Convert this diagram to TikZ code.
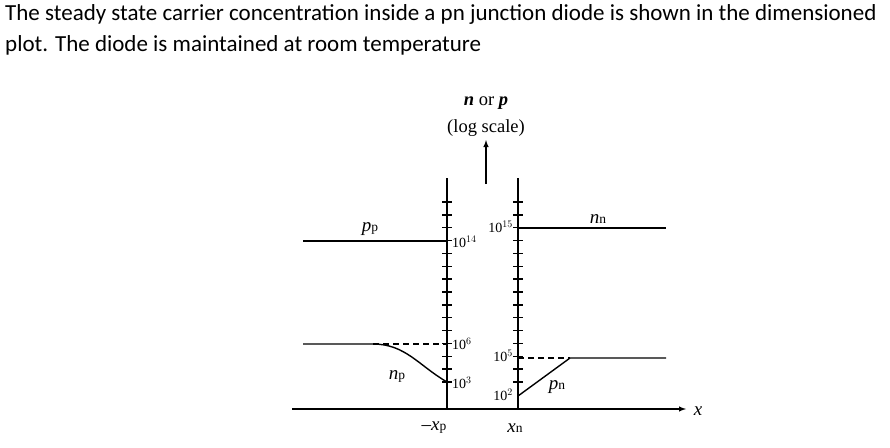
\documentclass[tikz,border=0pt]{standalone}
\usepackage{fontspec}
\setmainfont{Liberation Serif}
\newfontfamily\hdr{Carlito}
\begin{document}
\begin{tikzpicture}[x=1pt,y=-1pt,
  ln/.style={line width=1.4pt},
  dsh/.style={line width=1.1pt,dash pattern=on 6pt off 4pt},
  lbl/.style={font=\fontsize{19}{20}\selectfont\itshape,inner sep=0},
  tl/.style={font=\fontsize{14}{16}\selectfont,inner sep=0,anchor=west},
  tlr/.style={font=\fontsize{14}{16}\selectfont,inner sep=0,anchor=east}]
\useasboundingbox (0,0) rectangle (890,447);
\node[anchor=west,inner sep=0,font=\hdr\fontsize{23}{26}\selectfont] (h1) at (5,14) {The steady state carrier concentration inside a pn junction diode is shown in the dimensioned};
\node[anchor=west,inner sep=0,font=\hdr\fontsize{23}{26}\selectfont] (h2) at (5,45) {plot. The diode is maintained at room temperature};
\node[inner sep=0,font=\fontsize{18.5}{20}\selectfont] (t1) at (486,103) {\textit{\textbf{n}} or \textit{\textbf{p}}};
\node[inner sep=0,font=\fontsize{18.5}{20}\selectfont] (t2) at (486,128) {(log scale)};
\coordinate (a0) at (486,184); \coordinate (a1) at (486,140);
\draw[ln,-latex] (a0) -- (a1);
\coordinate (xs) at (292,409); \coordinate (xe) at (686,409);
\draw[ln,-latex] (xs) -- (xe);
\node[lbl] (xl) at (698,411) {x};
\coordinate (L0) at (447,178); \coordinate (L1) at (447,409);
\coordinate (R0) at (518,178); \coordinate (R1) at (518,409);
\draw[ln] (L0) -- (L1); \draw[ln] (R0) -- (R1);
\foreach \i in {0,...,14} {
  \draw[ln] (442,{202+12.85*\i}) -- (452,{202+12.85*\i});
  \draw[ln] (513,{202+12.85*\i}) -- (523,{202+12.85*\i});
}
\node[tl] (l14) at (452,242) {10$^{14}$};
\node[tl] (l6) at (452,344) {10$^{6}$};
\node[tl] (l3) at (452,383) {10$^{3}$};
\node[tlr] (r15) at (513,227) {10$^{15}$};
\node[tlr] (r5) at (513,356) {10$^{5}$};
\node[tlr] (r2) at (513,395) {10$^{2}$};
\coordinate (pp0) at (303,241); \coordinate (pp1) at (447,241);
\draw[ln] (pp0) -- (pp1);
\coordinate (nn0) at (518,228); \coordinate (nn1) at (666,228);
\draw[ln] (nn0) -- (nn1);
\coordinate (np0) at (303,344); \coordinate (np1) at (373,344); \coordinate (np2) at (447,382);
\draw[ln] (np0) -- (np1) to[out=0,in=150] (np2);
\draw[dsh] (np1) -- (447,344);
\coordinate (pn0) at (518,396); \coordinate (pn1) at (570,358); \coordinate (pn2) at (666,358);
\draw[ln] (pn0) -- (pn1) -- (pn2);
\draw[dsh] (518,358) -- (pn1);
\node[lbl] (lpp) at (370,229) {p\textup{\fontsize{13.5}{15}\selectfont p}};
\node[lbl] (lnn) at (598,219) {n\textup{\fontsize{13.5}{15}\selectfont n}};
\node[lbl] (lnp) at (397,376) {n\textup{\fontsize{13.5}{15}\selectfont p}};
\node[lbl] (lpn) at (557,387) {p\textup{\fontsize{13.5}{15}\selectfont n}};
\node[lbl] (lxp) at (434,428) {\textup{--}x\textup{\fontsize{13.5}{15}\selectfont p}};
\node[lbl] (lxn) at (515,428) {x\textup{\fontsize{13.5}{15}\selectfont n}};
\end{tikzpicture}
\end{document}
